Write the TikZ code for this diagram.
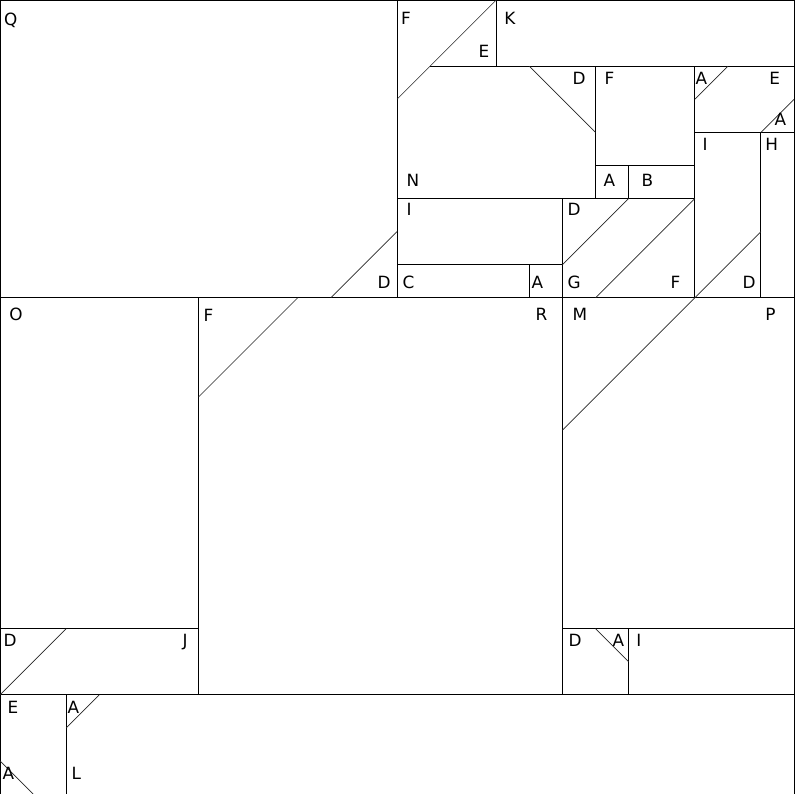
\documentclass[tikz,border=0pt]{standalone}
\usepackage{fontspec}
\setmainfont{DejaVu Sans}
\begin{document}
\begin{tikzpicture}[x=1cm,y=-1cm,
  edge/.style={draw=black,line width=0.8pt},
  diag/.style={draw=black!85,line width=0.6pt},
  lbl/.style={anchor=base west,inner sep=0pt,font=\fontsize{14.5}{17}\selectfont}]
\useasboundingbox (0,0) rectangle (24,24);
% rectangles
\draw[edge] (0,0) rectangle (24,24);
\draw[edge] (0,9) -- (24,9);
\draw[edge] (12,0) -- (12,9);
\draw[edge] (15,0) -- (15,2);
\draw[edge] (13,2) -- (24,2);
\draw[edge] (12,6) -- (18,6) -- (18,2);
\draw[edge] (18,2) rectangle (21,5);
\draw[edge] (18,5) rectangle (19,6);
\draw[edge] (19,5) rectangle (21,6);
\draw[edge] (21,2) rectangle (24,4);
\draw[edge] (21,4) rectangle (23,9);
\draw[edge] (23,4) rectangle (24,9);
\draw[edge] (12,6) rectangle (17,8);
\draw[edge] (12,8) rectangle (16,9);
\draw[edge] (16,8) rectangle (17,9);
\draw[edge] (17,6) rectangle (21,9);
\draw[edge] (0,9) rectangle (6,19);
\draw[edge] (0,19) rectangle (6,21);
\draw[edge] (6,9) rectangle (17,21);
\draw[edge] (17,9) rectangle (24,19);
\draw[edge] (17,19) rectangle (19,21);
\draw[edge] (19,19) rectangle (24,21);
\draw[edge] (0,21) rectangle (2,24);
\draw[edge] (2,21) rectangle (24,24);
% diagonals
\draw[diag] (15,0) -- (12,3);
\draw[diag] (16,2) -- (18,4);
\draw[diag] (22,2) -- (21,3);
\draw[diag] (24,3) -- (23,4);
\draw[diag] (23,7) -- (21,9);
\draw[diag] (12,7) -- (10,9);
\draw[diag] (19,6) -- (17,8);
\draw[diag] (21,6) -- (18,9);
\draw[diag] (9,9) -- (6,12);
\draw[diag] (21,9) -- (17,13);
\draw[diag] (2,19) -- (0,21);
\draw[diag] (18,19) -- (19,20);
\draw[diag] (3,21) -- (2,22);
\draw[diag] (0,23) -- (1,24);
% labels
\node[lbl] (lQ) at (0.12,0.76) {Q};
\node[lbl] (lF1) at (12.12,0.73) {F};
\node[lbl] (lE1) at (14.46,1.75) {E};
\node[lbl] (lK) at (15.24,0.73) {K};
\node[lbl] (lD1) at (17.30,2.54) {D};
\node[lbl] (lN) at (12.28,5.65) {N};
\node[lbl] (lF2) at (18.27,2.54) {F};
\node[lbl] (lA1) at (21.02,2.54) {A};
\node[lbl] (lE2) at (23.25,2.54) {E};
\node[lbl] (lA2) at (23.41,3.78) {A};
\node[lbl] (lI1) at (21.23,4.56) {I};
\node[lbl] (lH) at (23.13,4.56) {H};
\node[lbl] (lA3) at (18.24,5.65) {A};
\node[lbl] (lB) at (19.39,5.65) {B};
\node[lbl] (lI2) at (12.28,6.50) {I};
\node[lbl] (lD2) at (17.15,6.50) {D};
\node[lbl] (lD3) at (11.41,8.71) {D};
\node[lbl] (lC) at (12.16,8.71) {C};
\node[lbl] (lA4) at (16.06,8.71) {A};
\node[lbl] (lG) at (17.15,8.71) {G};
\node[lbl] (lF3) at (20.26,8.73) {F};
\node[lbl] (lD4) at (22.44,8.73) {D};
\node[lbl] (lO) at (0.28,9.70) {O};
\node[lbl] (lF4) at (6.15,9.72) {F};
\node[lbl] (lR) at (16.18,9.70) {R};
\node[lbl] (lM) at (17.30,9.70) {M};
\node[lbl] (lP) at (23.13,9.70) {P};
\node[lbl] (lD5) at (0.10,19.55) {D};
\node[lbl] (lJ) at (5.51,19.55) {J};
\node[lbl] (lE3) at (0.22,21.56) {E};
\node[lbl] (lA5) at (2.04,21.56) {A};
\node[lbl] (lA6) at (0.07,23.55) {A};
\node[lbl] (lL) at (2.16,23.55) {L};
\node[lbl] (lD6) at (17.18,19.55) {D};
\node[lbl] (lA7) at (18.51,19.55) {A};
\node[lbl] (lI3) at (19.23,19.55) {I};
\end{tikzpicture}
\end{document}
